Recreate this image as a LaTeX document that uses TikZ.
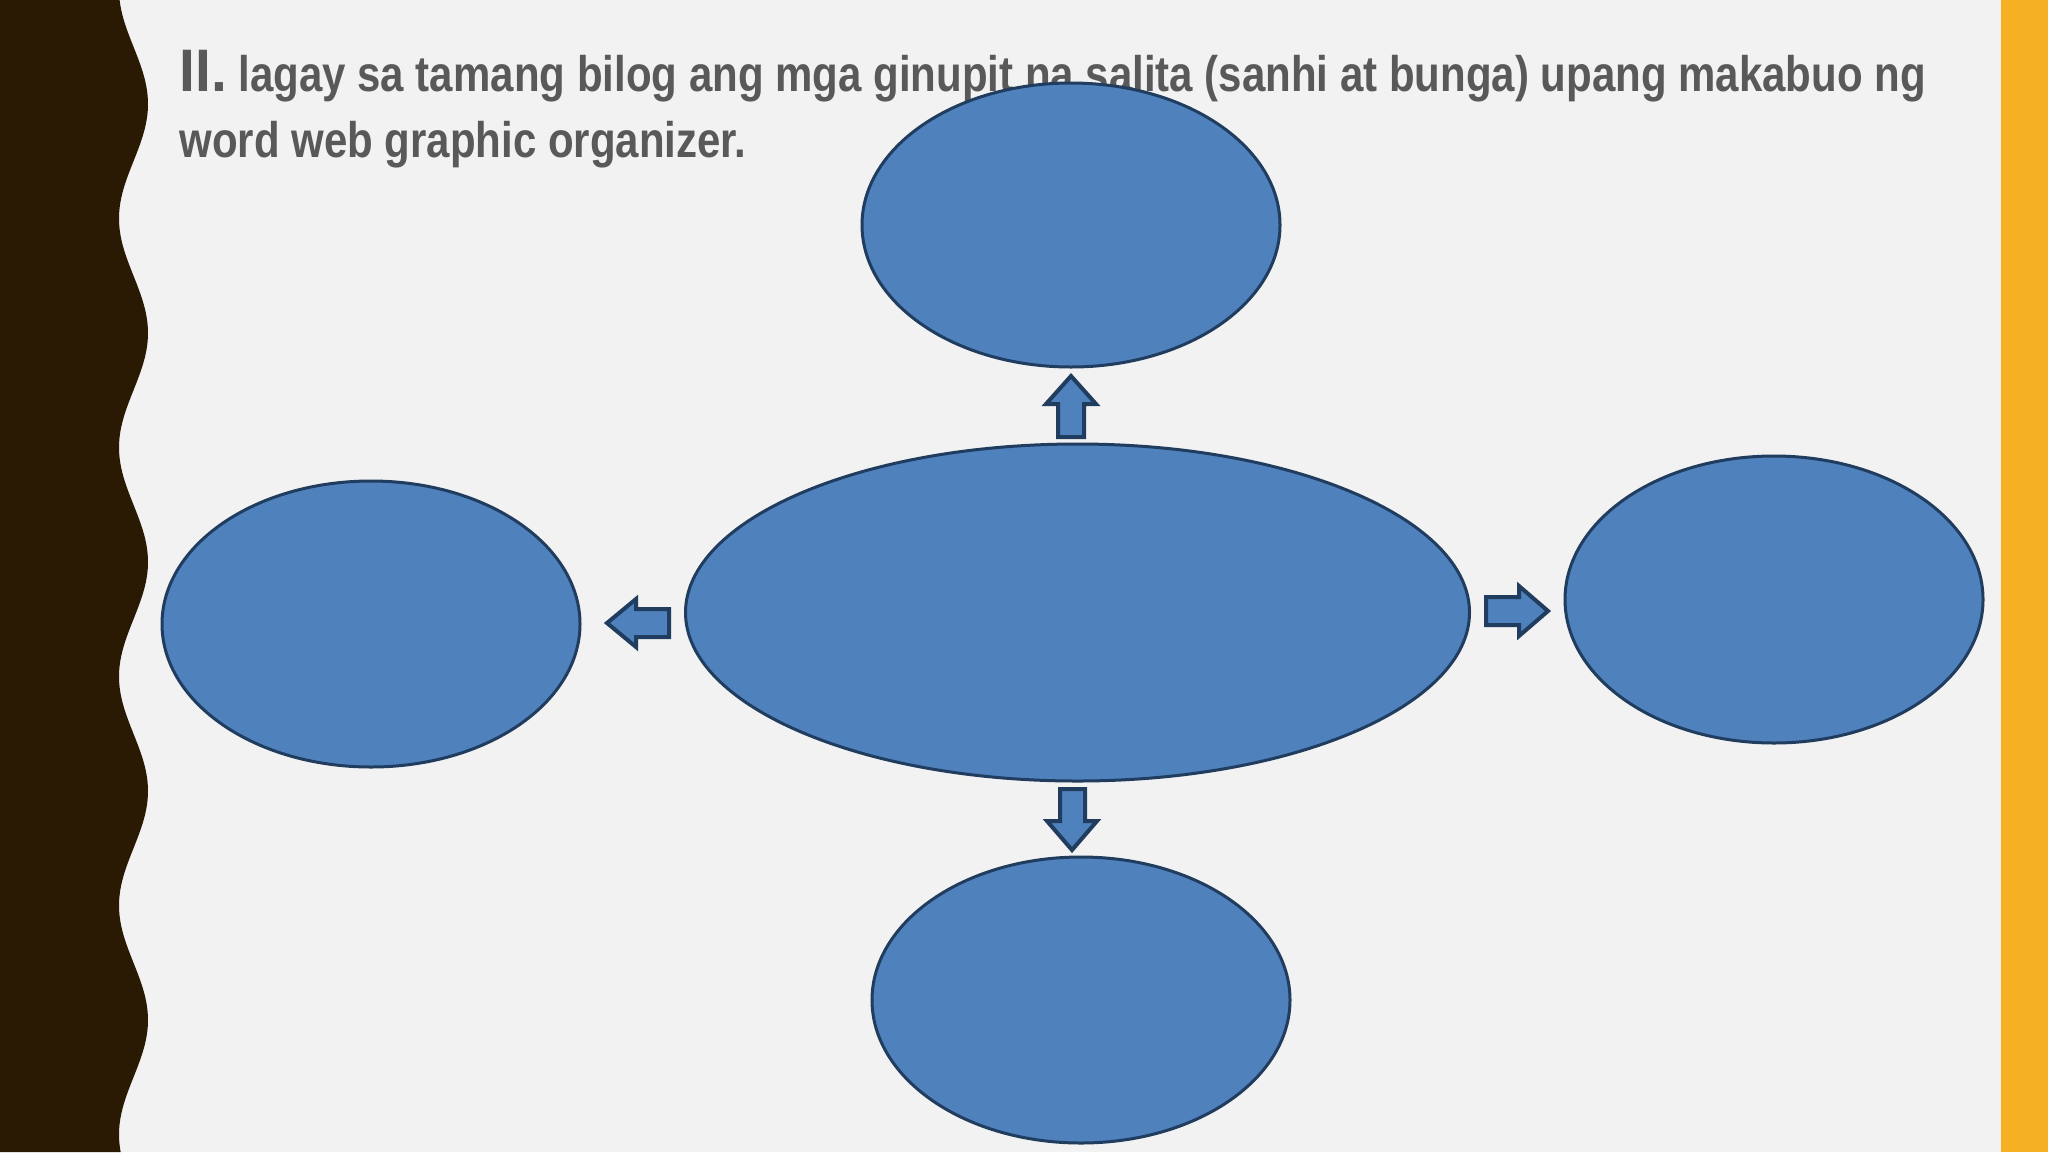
\documentclass[tikz,border=0pt]{standalone}
\usepackage{fontspec}
\newfontfamily\titlefont{Liberation Sans}[FakeStretch=0.84]
\newfontfamily\numfont{Liberation Sans}[FakeStretch=0.95]
\usetikzlibrary{shapes.geometric}
\definecolor{bgcol}{HTML}{F2F2F2}
\definecolor{darkbrown}{HTML}{2A1A04}
\definecolor{stripe}{HTML}{F5B122}
\definecolor{blobfill}{HTML}{4F81BD}
\definecolor{blobline}{HTML}{203C5E}
\definecolor{txtgray}{HTML}{595959}
\tikzset{
  blob/.style={ellipse, fill=blobfill, draw=blobline, line width=1.5pt, inner sep=0pt, outer sep=0pt},
  blockarrow/.style={fill=blobfill, draw=blobline, line width=2pt, line join=miter},
  titletext/.style={text=txtgray, inner sep=0pt, anchor=base west, font=\titlefont\bfseries\fontsize{25}{30}\selectfont}
}
\begin{document}
\begin{tikzpicture}[x=0.5pt, y=-0.5pt]
\useasboundingbox (0,0) rectangle (2048,1152);
\fill[bgcol] (0,0) rectangle (2048,1152);
% wavy dark band
\fill[darkbrown] (0,0) -- plot[domain=0:1152, samples=240, variable=\t] ({133.5+14.5*cos(((\t-104)/229)*360)}, \t) -- (0,1152) -- cycle;
% orange stripe
\fill[stripe] (2001,0) rectangle (2048,1152);
% title
\node[titletext] (t1) at (179,91) {{\numfont\bfseries\fontsize{30}{30}\selectfont II.} lagay sa tamang bilog ang mga ginupit na salita (sanhi at bunga) upang makabuo ng};
\node[titletext] (t2) at (179,157) {word web graphic organizer.};
% ellipses
\node[blob, minimum width=209pt, minimum height=142pt] (top) at (1071,225) {};
\node[blob, minimum width=392pt, minimum height=168.5pt] (center) at (1077.5,612.5) {};
\node[blob, minimum width=209pt, minimum height=143pt] (left) at (371,624) {};
\node[blob, minimum width=209pt, minimum height=143.5pt] (right) at (1774,599.5) {};
\node[blob, minimum width=209pt, minimum height=143pt] (bottom) at (1081,1000) {};
% block arrows
\draw[blockarrow] (1058,437) -- (1058,404) -- (1046,404) -- (1071,376) -- (1096,404) -- (1084,404) -- (1084,437) -- cycle;
\draw[blockarrow] (669,609) -- (636,609) -- (636,599) -- (607,623) -- (636,647) -- (636,637) -- (669,637) -- cycle;
\draw[blockarrow] (1486,597) -- (1519,597) -- (1519,586) -- (1548,611) -- (1519,636) -- (1519,625) -- (1486,625) -- cycle;
\draw[blockarrow] (1060,789) -- (1085,789) -- (1085,821) -- (1097,821) -- (1072,850) -- (1047,821) -- (1060,821) -- cycle;
\end{tikzpicture}
\end{document}
